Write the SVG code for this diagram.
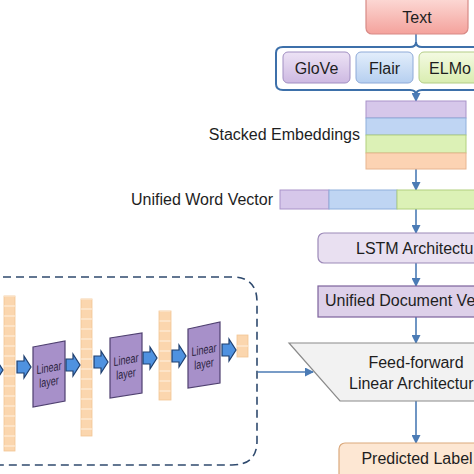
<svg xmlns="http://www.w3.org/2000/svg" width="474" height="474" viewBox="0 0 474 474">
<style>
.t{font-family:"Liberation Sans",Arial,sans-serif;font-size:16px;fill:#1e1e1e}
.ll{font-family:"Liberation Sans",Arial,sans-serif;font-size:12.5px;fill:#2b2440;text-anchor:middle}
.c{stroke:#4b7bb5;stroke-width:1.6;fill:none}
.br{stroke:#3d70aa;stroke-width:2;fill:none}
.bar{fill:#fbd6ae;stroke:#f2c595;stroke-width:0.8}
.cell{stroke:#fff1e2;stroke-width:11;stroke-dasharray:1 9}
.lin{fill:#a790c9;stroke:#4f4070;stroke-width:1.2}
.ba{fill:#4f92e0;stroke:#1f3f6e;stroke-width:1.2}
</style>
<defs>
<marker id="ah" markerUnits="userSpaceOnUse" markerWidth="9" markerHeight="9" refX="8" refY="4.5" orient="auto">
<path d="M0,0 L9,4.5 L0,9 z" fill="#4b7bb5"/>
</marker>
<linearGradient id="gT" x1="0" y1="0" x2="0" y2="1"><stop offset="0" stop-color="#fde0dc"/><stop offset="1" stop-color="#f4a29c"/></linearGradient>
<linearGradient id="gP" x1="0" y1="0" x2="0" y2="1"><stop offset="0" stop-color="#ede3f5"/><stop offset="1" stop-color="#cdb9e2"/></linearGradient>
<linearGradient id="gB" x1="0" y1="0" x2="0" y2="1"><stop offset="0" stop-color="#e3eefb"/><stop offset="1" stop-color="#b6cff0"/></linearGradient>
<linearGradient id="gG" x1="0" y1="0" x2="0" y2="1"><stop offset="0" stop-color="#f4fae3"/><stop offset="1" stop-color="#d9edb0"/></linearGradient>
<path id="arr" d="M0,-6 L7,-6 L7,-11 L14,0 L7,11 L7,6 L0,6 Z"/>
</defs>
<rect width="474" height="474" fill="#ffffff"/>

<g id="connectors">
<line class="c" x1="416" y1="34" x2="416" y2="42"/>
<path class="br" d="M276,68 L276,53 Q276,47 283,47 L410,47 Q416,47 416,42 Q416,47 422,47 L480,47"/>
<path class="br" d="M276,68 L276,84 Q276,90 283,90 L410,90 Q416,90 416,95 Q416,90 422,90 L480,90"/>
<line class="c" x1="416" y1="95" x2="416" y2="101" marker-end="url(#ah)"/>
<line class="c" x1="416" y1="169" x2="416" y2="190" marker-end="url(#ah)"/>
<line class="c" x1="416" y1="209" x2="416" y2="233" marker-end="url(#ah)"/>
<line class="c" x1="416" y1="263" x2="416" y2="286" marker-end="url(#ah)"/>
<line class="c" x1="416" y1="317" x2="416" y2="343" marker-end="url(#ah)"/>
<line class="c" x1="416" y1="401" x2="416" y2="443" marker-end="url(#ah)"/>
<line class="c" x1="258" y1="372" x2="313" y2="372" marker-end="url(#ah)"/>
</g>

<g id="text-node">
<rect x="366" y="-6" width="102" height="40" rx="6" fill="url(#gT)" stroke="#d88a86" stroke-width="1.2"/>
<text class="t" x="417" y="23" text-anchor="middle">Text</text>
</g>

<g id="glove">
<rect x="283" y="52" width="67" height="31" rx="5" fill="url(#gP)" stroke="#a18fc2" stroke-width="1"/>
<text class="t" x="316.5" y="74" text-anchor="middle">GloVe</text>
</g>
<g id="flair">
<rect x="356" y="52" width="57" height="31" rx="5" fill="url(#gB)" stroke="#8eaad8" stroke-width="1"/>
<text class="t" x="384.5" y="74" text-anchor="middle">Flair</text>
</g>
<g id="elmo">
<rect x="419" y="52" width="70" height="31" rx="5" fill="url(#gG)" stroke="#b3cd86" stroke-width="1"/>
<text class="t" x="450" y="74" text-anchor="middle">ELMo</text>
</g>

<g id="stacked-embeddings">
<rect x="366" y="101" width="100" height="17" fill="#d6c7ea" stroke="#a993c9" stroke-width="1"/>
<rect x="366" y="118" width="100" height="17" fill="#bfd5f3" stroke="#8fafdc" stroke-width="1"/>
<rect x="366" y="135" width="100" height="18" fill="#dcf1b6" stroke="#b2d07e" stroke-width="1"/>
<rect x="366" y="153" width="100" height="16" fill="#fcd3b3" stroke="#e8b590" stroke-width="1"/>
<text class="t" x="360" y="140" text-anchor="end">Stacked Embeddings</text>
</g>

<g id="unified-word-vector">
<rect x="280" y="190" width="49" height="19" fill="#d6c7ea" stroke="#a993c9" stroke-width="1"/>
<rect x="329" y="190" width="68" height="19" fill="#bfd5f3" stroke="#8fafdc" stroke-width="1"/>
<rect x="397" y="190" width="85" height="19" fill="#dcf1b6" stroke="#b2d07e" stroke-width="1"/>
<text class="t" x="273" y="205" text-anchor="end">Unified Word Vector</text>
</g>

<g id="lstm">
<rect x="318" y="233" width="170" height="30" rx="6" fill="#e9e0f1" stroke="#9c89b8" stroke-width="1.2"/>
<text class="t" x="356" y="254">LSTM Architectu</text>
</g>

<g id="unified-document-vector">
<rect x="318" y="286" width="170" height="31" fill="#ddd0e9" stroke="#7c629c" stroke-width="1.2"/>
<text class="t" x="325" y="306">Unified Document Ve</text>
</g>

<g id="feed-forward">
<path d="M289,343 L490,343 L490,401 L340,401 Z" fill="#f2f2f2" stroke="#8a8a8a" stroke-width="1.2"/>
<text class="t" x="416" y="368" text-anchor="middle">Feed-forward</text>
<text class="t" x="349" y="389">Linear Architectur</text>
</g>

<g id="predicted-label">
<rect x="339" y="443" width="150" height="40" rx="6" fill="#fde7d3" stroke="#dba97c" stroke-width="1.2"/>
<text class="t" x="417" y="464" text-anchor="middle">Predicted Label</text>
</g>

<g id="linear-network">
<path d="M-10,277 L232,277 Q257,277 257,302 L257,441 Q257,465 232,465 L-10,465" fill="none" stroke="#2f4a6e" stroke-width="1.6" stroke-dasharray="8 5"/>

<rect class="bar" x="4" y="296" width="11" height="155"/>
<line class="cell" x1="9.5" y1="296" x2="9.5" y2="451" stroke-dashoffset="-9.5"/>
<rect class="bar" x="81" y="299" width="11" height="137"/>
<line class="cell" x1="86.5" y1="299" x2="86.5" y2="436" stroke-dashoffset="-9.5"/>
<rect class="bar" x="159" y="311" width="12" height="89"/>
<line class="cell" x1="165" y1="311" x2="165" y2="400" stroke-width="12" stroke-dashoffset="-9.5"/>
<rect class="bar" x="237" y="335" width="11" height="22"/>
<line x1="237" y1="346" x2="248" y2="346" stroke="#fff1e2" stroke-width="1"/>

<path class="lin" d="M33,347 L65,341 L65,401 L33,407 Z"/>
<text class="ll" transform="translate(49,372) skewY(-10) scale(0.72,1)">Linear</text>
<text class="ll" transform="translate(49,386) skewY(-10) scale(0.72,1)">layer</text>
<path class="lin" d="M110,338 L142,333 L142,393 L110,398 Z"/>
<text class="ll" transform="translate(126,364) skewY(-10) scale(0.72,1)">Linear</text>
<text class="ll" transform="translate(126,378) skewY(-10) scale(0.72,1)">layer</text>
<path class="lin" d="M188,329 L220,322 L220,383 L188,388 Z"/>
<text class="ll" transform="translate(204,354) skewY(-10) scale(0.72,1)">Linear</text>
<text class="ll" transform="translate(204,368) skewY(-10) scale(0.72,1)">layer</text>

<use href="#arr" class="ba" x="-11" y="370"/>
<use href="#arr" class="ba" x="17" y="367"/>
<use href="#arr" class="ba" x="66" y="365"/>
<use href="#arr" class="ba" x="94" y="362"/>
<use href="#arr" class="ba" x="143" y="358"/>
<use href="#arr" class="ba" x="172" y="356"/>
<use href="#arr" class="ba" x="222" y="350"/>
</g>
</svg>
